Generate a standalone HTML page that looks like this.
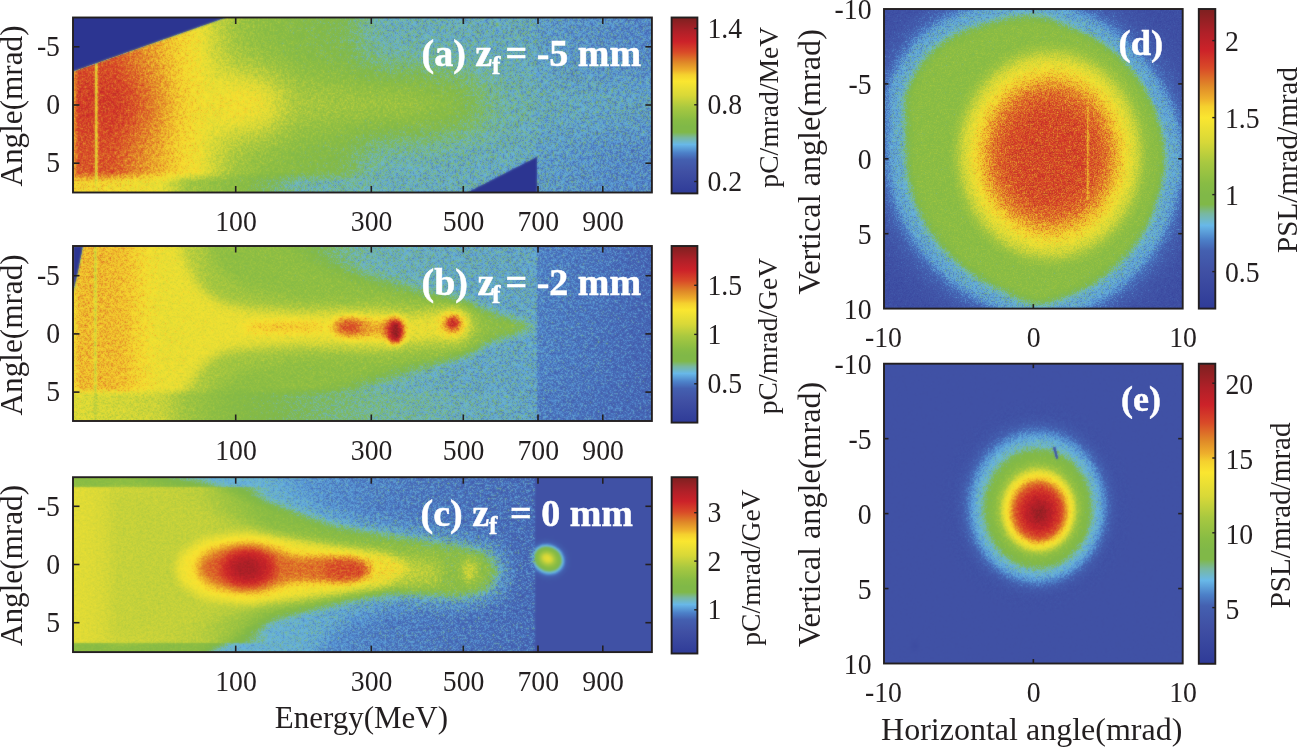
<!DOCTYPE html>
<html lang="en"><head><meta charset="utf-8"><title>Figure</title>
<style>
html,body{margin:0;padding:0;background:#fff;}
body{width:1300px;height:748px;overflow:hidden;}
svg{display:block;font-family:'Liberation Serif', serif;}
</style></head>
<body>
<svg width="1300" height="748" viewBox="0 0 1300 748">
<defs>
<filter id="fa" filterUnits="userSpaceOnUse" x="65" y="9.5" width="594.9" height="191.0" color-interpolation-filters="sRGB">
<feTurbulence type="fractalNoise" baseFrequency="0.6" numOctaves="2" seed="3" result="t"/>
<feColorMatrix in="t" type="matrix" values="0 0 0 0 1  1 0 0 0 0  0 0 0 0 1  0 0 0 0 1" result="n"/>
<feColorMatrix in="SourceGraphic" type="matrix" values="1 0 0 0 0  0 1 0 0 0  0 1 0 0 0  0 0 0 0 1" result="s"/>
<feComposite in="s" in2="n" operator="arithmetic" k1="1" k2="0" k3="0" k4="0" result="p"/>
<feColorMatrix in="p" type="matrix" values="1 0.5 -0.25 0 0  1 0.5 -0.25 0 0  1 0.5 -0.25 0 0  0 0 0 0 1" result="v"/>
<feComponentTransfer in="v" result="c"><feFuncR type="table" tableValues="0.173 0.173 0.173 0.173 0.173 0.173 0.173 0.173 0.173 0.193 0.201 0.210 0.218 0.227 0.235 0.244 0.251 0.255 0.258 0.262 0.265 0.275 0.289 0.308 0.344 0.380 0.413 0.438 0.463 0.482 0.498 0.502 0.502 0.511 0.524 0.542 0.570 0.598 0.626 0.654 0.694 0.736 0.778 0.820 0.856 0.882 0.908 0.934 0.960 0.979 0.970 0.962 0.947 0.929 0.909 0.889 0.875 0.868 0.861 0.854 0.843 0.830 0.816 0.803 0.777 0.747 0.717 0.686 0.646 0.607 0.568 0.529 0.490 0.490 0.490 0.490 0.490 0.490 0.490 0.490 0.490"/><feFuncG type="table" tableValues="0.204 0.204 0.204 0.204 0.204 0.204 0.204 0.204 0.204 0.241 0.252 0.262 0.273 0.283 0.294 0.305 0.316 0.330 0.344 0.358 0.372 0.411 0.464 0.522 0.593 0.665 0.722 0.722 0.722 0.722 0.722 0.722 0.722 0.726 0.733 0.741 0.751 0.762 0.772 0.783 0.796 0.810 0.824 0.838 0.851 0.862 0.872 0.883 0.894 0.894 0.858 0.823 0.753 0.679 0.625 0.571 0.512 0.447 0.381 0.316 0.265 0.225 0.184 0.143 0.132 0.130 0.127 0.125 0.125 0.125 0.125 0.125 0.125 0.125 0.125 0.125 0.125 0.125 0.125 0.125 0.125"/><feFuncB type="table" tableValues="0.565 0.565 0.565 0.565 0.565 0.565 0.565 0.565 0.565 0.600 0.606 0.612 0.619 0.625 0.631 0.638 0.644 0.655 0.665 0.676 0.686 0.716 0.756 0.796 0.837 0.877 0.886 0.773 0.660 0.504 0.330 0.282 0.282 0.278 0.271 0.266 0.262 0.259 0.255 0.252 0.245 0.238 0.231 0.224 0.217 0.211 0.205 0.199 0.193 0.187 0.184 0.181 0.176 0.171 0.166 0.160 0.157 0.157 0.157 0.157 0.157 0.159 0.160 0.161 0.160 0.159 0.158 0.156 0.150 0.144 0.138 0.132 0.125 0.125 0.125 0.125 0.125 0.125 0.125 0.125 0.125"/></feComponentTransfer>
<feGaussianBlur in="c" stdDeviation="1.0" result="cb"/>
<feComposite in="c" in2="cb" operator="arithmetic" k1="0" k2="0.3" k3="0.7" k4="0"/>
</filter>
<linearGradient id="la" gradientUnits="userSpaceOnUse" x1="73" y1="0" x2="651.9" y2="0"><stop offset="0.0000" stop-color="rgb(168,0,0)" stop-opacity="1"/><stop offset="0.0086" stop-color="rgb(188,0,0)" stop-opacity="1"/><stop offset="0.0674" stop-color="rgb(188,0,0)" stop-opacity="1"/><stop offset="0.1123" stop-color="rgb(177,0,0)" stop-opacity="1"/><stop offset="0.1537" stop-color="rgb(168,0,0)" stop-opacity="1"/><stop offset="0.1917" stop-color="rgb(158,0,0)" stop-opacity="1"/><stop offset="0.2159" stop-color="rgb(152,0,0)" stop-opacity="1"/><stop offset="0.2436" stop-color="rgb(136,0,0)" stop-opacity="1"/><stop offset="0.2798" stop-color="rgb(121,0,0)" stop-opacity="1"/><stop offset="0.3230" stop-color="rgb(113,0,0)" stop-opacity="1"/><stop offset="0.4647" stop-color="rgb(101,0,0)" stop-opacity="1"/><stop offset="0.5044" stop-color="rgb(91,0,0)" stop-opacity="1"/><stop offset="0.5476" stop-color="rgb(85,0,0)" stop-opacity="1"/><stop offset="0.7894" stop-color="rgb(83,0,0)" stop-opacity="1"/><stop offset="0.8015" stop-color="rgb(82,0,0)" stop-opacity="1"/><stop offset="0.8015" stop-color="rgb(80,0,0)" stop-opacity="1"/><stop offset="0.8672" stop-color="rgb(77,0,0)" stop-opacity="1"/><stop offset="1.0002" stop-color="rgb(73,0,0)" stop-opacity="1"/></linearGradient>
<linearGradient id="la1" gradientUnits="userSpaceOnUse" x1="73" y1="0" x2="651.9" y2="0"><stop offset="0.0000" stop-color="rgb(168,0,0)" stop-opacity="1"/><stop offset="0.0086" stop-color="rgb(194,0,0)" stop-opacity="1"/><stop offset="0.0777" stop-color="rgb(194,0,0)" stop-opacity="1"/><stop offset="0.1054" stop-color="rgb(188,0,0)" stop-opacity="1"/><stop offset="0.1330" stop-color="rgb(180,0,0)" stop-opacity="1"/><stop offset="0.1606" stop-color="rgb(171,0,0)" stop-opacity="1"/><stop offset="0.1866" stop-color="rgb(162,0,0)" stop-opacity="1"/><stop offset="0.2107" stop-color="rgb(156,0,0)" stop-opacity="1"/><stop offset="0.2401" stop-color="rgb(151,0,0)" stop-opacity="1"/><stop offset="0.2798" stop-color="rgb(155,0,0)" stop-opacity="1"/><stop offset="0.3196" stop-color="rgb(151,0,0)" stop-opacity="1"/><stop offset="0.3438" stop-color="rgb(142,0,0)" stop-opacity="1"/><stop offset="0.3662" stop-color="rgb(132,0,0)" stop-opacity="1"/><stop offset="0.3921" stop-color="rgb(124,0,0)" stop-opacity="1"/><stop offset="0.4612" stop-color="rgb(120,0,0)" stop-opacity="1"/><stop offset="0.5821" stop-color="rgb(117,0,0)" stop-opacity="1"/><stop offset="0.6426" stop-color="rgb(110,0,0)" stop-opacity="1"/><stop offset="0.6789" stop-color="rgb(103,0,0)" stop-opacity="1"/><stop offset="0.7134" stop-color="rgb(94,0,0)" stop-opacity="1"/><stop offset="0.7480" stop-color="rgb(88,0,0)" stop-opacity="1"/><stop offset="0.8015" stop-color="rgb(85,0,0)" stop-opacity="1"/><stop offset="0.8015" stop-color="rgb(84,0,0)" stop-opacity="1"/><stop offset="1.0002" stop-color="rgb(80,0,0)" stop-opacity="1"/></linearGradient>
<linearGradient id="ma1g" gradientUnits="userSpaceOnUse" x1="0" y1="14" x2="0" y2="194"><stop offset="0.0000" stop-color="#fff" stop-opacity="0.002"/><stop offset="0.1111" stop-color="#fff" stop-opacity="0.02"/><stop offset="0.1667" stop-color="#fff" stop-opacity="0.056"/><stop offset="0.2222" stop-color="#fff" stop-opacity="0.135"/><stop offset="0.2778" stop-color="#fff" stop-opacity="0.278"/><stop offset="0.3333" stop-color="#fff" stop-opacity="0.487"/><stop offset="0.3889" stop-color="#fff" stop-opacity="0.726"/><stop offset="0.4444" stop-color="#fff" stop-opacity="0.923"/><stop offset="0.5000" stop-color="#fff" stop-opacity="1.0"/><stop offset="0.5556" stop-color="#fff" stop-opacity="0.923"/><stop offset="0.6111" stop-color="#fff" stop-opacity="0.726"/><stop offset="0.6667" stop-color="#fff" stop-opacity="0.487"/><stop offset="0.7222" stop-color="#fff" stop-opacity="0.278"/><stop offset="0.7778" stop-color="#fff" stop-opacity="0.135"/><stop offset="0.8333" stop-color="#fff" stop-opacity="0.056"/><stop offset="0.8889" stop-color="#fff" stop-opacity="0.02"/><stop offset="1.0000" stop-color="#fff" stop-opacity="0.002"/></linearGradient>
<mask id="ma1" maskUnits="userSpaceOnUse" x="65" y="6" width="594.9" height="196"><rect x="65" y="6" width="594.9" height="196" fill="url(#ma1g)" /></mask>
<linearGradient id="la4" gradientUnits="userSpaceOnUse" x1="73" y1="0" x2="651.9" y2="0"><stop offset="0.0000" stop-color="rgb(160,0,0)" stop-opacity="1"/><stop offset="0.0466" stop-color="rgb(158,0,0)" stop-opacity="1"/><stop offset="0.1503" stop-color="rgb(148,0,0)" stop-opacity="1"/><stop offset="0.1987" stop-color="rgb(121,0,0)" stop-opacity="1"/><stop offset="0.2885" stop-color="rgb(109,0,0)" stop-opacity="1"/><stop offset="0.3472" stop-color="rgb(97,0,0)" stop-opacity="1"/><stop offset="0.3921" stop-color="rgb(87,0,0)" stop-opacity="1"/><stop offset="0.4612" stop-color="rgb(84,0,0)" stop-opacity="0.8"/><stop offset="0.5649" stop-color="rgb(83,0,0)" stop-opacity="0"/><stop offset="1.0002" stop-color="rgb(83,0,0)" stop-opacity="0"/></linearGradient>
<linearGradient id="la5" gradientUnits="userSpaceOnUse" x1="0" y1="172" x2="0" y2="182"><stop offset="0.0000" stop-color="#fff" stop-opacity="0"/><stop offset="1.0000" stop-color="#fff" stop-opacity="1"/></linearGradient>
<mask id="ma5" maskUnits="userSpaceOnUse" x="65" y="150" width="594.9" height="60"><rect x="65" y="150" width="594.9" height="60" fill="url(#la5)"/></mask>
<linearGradient id="na" gradientUnits="userSpaceOnUse" x1="73" y1="0" x2="651.9" y2="0"><stop offset="0.0000" stop-color="rgb(0,153,0)" stop-opacity="1"/><stop offset="0.2500" stop-color="rgb(0,128,0)" stop-opacity="1"/><stop offset="0.6000" stop-color="rgb(0,140,0)" stop-opacity="1"/><stop offset="0.7500" stop-color="rgb(0,158,0)" stop-opacity="1"/><stop offset="1.0000" stop-color="rgb(0,158,0)" stop-opacity="1"/></linearGradient>
<clipPath id="cfa"><rect x="73" y="17.5" width="578.9" height="175.0"/></clipPath>
<filter id="fb" filterUnits="userSpaceOnUse" x="65" y="238.0" width="594.9" height="191.0" color-interpolation-filters="sRGB">
<feTurbulence type="fractalNoise" baseFrequency="0.6" numOctaves="2" seed="7" result="t"/>
<feColorMatrix in="t" type="matrix" values="0 0 0 0 1  1 0 0 0 0  0 0 0 0 1  0 0 0 0 1" result="n"/>
<feColorMatrix in="SourceGraphic" type="matrix" values="1 0 0 0 0  0 1 0 0 0  0 1 0 0 0  0 0 0 0 1" result="s"/>
<feComposite in="s" in2="n" operator="arithmetic" k1="1" k2="0" k3="0" k4="0" result="p"/>
<feColorMatrix in="p" type="matrix" values="1 0.55 -0.275 0 0  1 0.55 -0.275 0 0  1 0.55 -0.275 0 0  0 0 0 0 1" result="v"/>
<feComponentTransfer in="v" result="c"><feFuncR type="table" tableValues="0.173 0.173 0.173 0.173 0.173 0.173 0.173 0.173 0.173 0.193 0.201 0.210 0.218 0.227 0.235 0.244 0.251 0.255 0.258 0.262 0.265 0.275 0.289 0.308 0.344 0.380 0.413 0.438 0.463 0.482 0.498 0.502 0.502 0.511 0.524 0.542 0.570 0.598 0.626 0.654 0.694 0.736 0.778 0.820 0.856 0.882 0.908 0.934 0.960 0.979 0.970 0.962 0.947 0.929 0.909 0.889 0.875 0.868 0.861 0.854 0.843 0.830 0.816 0.803 0.777 0.747 0.717 0.686 0.646 0.607 0.568 0.529 0.490 0.490 0.490 0.490 0.490 0.490 0.490 0.490 0.490"/><feFuncG type="table" tableValues="0.204 0.204 0.204 0.204 0.204 0.204 0.204 0.204 0.204 0.241 0.252 0.262 0.273 0.283 0.294 0.305 0.316 0.330 0.344 0.358 0.372 0.411 0.464 0.522 0.593 0.665 0.722 0.722 0.722 0.722 0.722 0.722 0.722 0.726 0.733 0.741 0.751 0.762 0.772 0.783 0.796 0.810 0.824 0.838 0.851 0.862 0.872 0.883 0.894 0.894 0.858 0.823 0.753 0.679 0.625 0.571 0.512 0.447 0.381 0.316 0.265 0.225 0.184 0.143 0.132 0.130 0.127 0.125 0.125 0.125 0.125 0.125 0.125 0.125 0.125 0.125 0.125 0.125 0.125 0.125 0.125"/><feFuncB type="table" tableValues="0.565 0.565 0.565 0.565 0.565 0.565 0.565 0.565 0.565 0.600 0.606 0.612 0.619 0.625 0.631 0.638 0.644 0.655 0.665 0.676 0.686 0.716 0.756 0.796 0.837 0.877 0.886 0.773 0.660 0.504 0.330 0.282 0.282 0.278 0.271 0.266 0.262 0.259 0.255 0.252 0.245 0.238 0.231 0.224 0.217 0.211 0.205 0.199 0.193 0.187 0.184 0.181 0.176 0.171 0.166 0.160 0.157 0.157 0.157 0.157 0.157 0.159 0.160 0.161 0.160 0.159 0.158 0.156 0.150 0.144 0.138 0.132 0.125 0.125 0.125 0.125 0.125 0.125 0.125 0.125 0.125"/></feComponentTransfer>
<feGaussianBlur in="c" stdDeviation="1.0" result="cb"/>
<feComposite in="c" in2="cb" operator="arithmetic" k1="0" k2="0.3" k3="0.7" k4="0"/>
</filter>
<linearGradient id="lb" gradientUnits="userSpaceOnUse" x1="73" y1="0" x2="651.9" y2="0"><stop offset="0.0000" stop-color="rgb(152,0,0)" stop-opacity="1"/><stop offset="0.0104" stop-color="rgb(166,0,0)" stop-opacity="1"/><stop offset="0.0466" stop-color="rgb(167,0,0)" stop-opacity="1"/><stop offset="0.0898" stop-color="rgb(165,0,0)" stop-opacity="1"/><stop offset="0.1192" stop-color="rgb(157,0,0)" stop-opacity="1"/><stop offset="0.1503" stop-color="rgb(151,0,0)" stop-opacity="1"/><stop offset="0.1779" stop-color="rgb(147,0,0)" stop-opacity="1"/><stop offset="0.2125" stop-color="rgb(128,0,0)" stop-opacity="1"/><stop offset="0.2367" stop-color="rgb(117,0,0)" stop-opacity="1"/><stop offset="0.3921" stop-color="rgb(107,0,0)" stop-opacity="1"/><stop offset="0.4526" stop-color="rgb(95,0,0)" stop-opacity="1"/><stop offset="0.5044" stop-color="rgb(87,0,0)" stop-opacity="1"/><stop offset="0.6512" stop-color="rgb(83,0,0)" stop-opacity="1"/><stop offset="0.8015" stop-color="rgb(81,0,0)" stop-opacity="1"/><stop offset="0.8015" stop-color="rgb(72,0,0)" stop-opacity="1"/><stop offset="0.9103" stop-color="rgb(68,0,0)" stop-opacity="1"/><stop offset="1.0002" stop-color="rgb(63,0,0)" stop-opacity="1"/></linearGradient>
<filter id="bl7" x="-30%" y="-30%" width="160%" height="160%" color-interpolation-filters="sRGB"><feGaussianBlur stdDeviation="7"/></filter>
<filter id="bl5" x="-30%" y="-30%" width="160%" height="160%" color-interpolation-filters="sRGB"><feGaussianBlur stdDeviation="5"/></filter>
<filter id="bl6" x="-30%" y="-30%" width="160%" height="160%" color-interpolation-filters="sRGB"><feGaussianBlur stdDeviation="6"/></filter>
<linearGradient id="lb2" gradientUnits="userSpaceOnUse" x1="73" y1="0" x2="651.9" y2="0"><stop offset="0.0000" stop-color="rgb(143,0,0)" stop-opacity="1"/><stop offset="0.0466" stop-color="rgb(140,0,0)" stop-opacity="1"/><stop offset="0.1503" stop-color="rgb(135,0,0)" stop-opacity="1"/><stop offset="0.1935" stop-color="rgb(121,0,0)" stop-opacity="1"/><stop offset="0.2712" stop-color="rgb(109,0,0)" stop-opacity="1"/><stop offset="0.3921" stop-color="rgb(97,0,0)" stop-opacity="1"/><stop offset="0.6512" stop-color="rgb(85,0,0)" stop-opacity="1"/><stop offset="0.8015" stop-color="rgb(81,0,0)" stop-opacity="1"/><stop offset="0.8015" stop-color="rgb(71,0,0)" stop-opacity="1"/><stop offset="1.0002" stop-color="rgb(64,0,0)" stop-opacity="1"/></linearGradient>
<linearGradient id="lb3" gradientUnits="userSpaceOnUse" x1="0" y1="388" x2="0" y2="396"><stop offset="0.0000" stop-color="#fff" stop-opacity="0"/><stop offset="1.0000" stop-color="#fff" stop-opacity="1"/></linearGradient>
<mask id="mb3"><rect x="73" y="380" width="578.9" height="50" fill="url(#lb3)"/></mask>
<filter id="bl4_5" x="-30%" y="-30%" width="160%" height="160%" color-interpolation-filters="sRGB"><feGaussianBlur stdDeviation="4.5"/></filter>
<filter id="bl3_5" x="-30%" y="-30%" width="160%" height="160%" color-interpolation-filters="sRGB"><feGaussianBlur stdDeviation="3.5"/></filter>
<filter id="bl2_5" x="-30%" y="-30%" width="160%" height="160%" color-interpolation-filters="sRGB"><feGaussianBlur stdDeviation="2.5"/></filter>
<filter id="bl4" x="-30%" y="-30%" width="160%" height="160%" color-interpolation-filters="sRGB"><feGaussianBlur stdDeviation="4"/></filter>
<filter id="bl3" x="-30%" y="-30%" width="160%" height="160%" color-interpolation-filters="sRGB"><feGaussianBlur stdDeviation="3"/></filter>
<filter id="bl2" x="-30%" y="-30%" width="160%" height="160%" color-interpolation-filters="sRGB"><feGaussianBlur stdDeviation="2"/></filter>
<linearGradient id="nb" gradientUnits="userSpaceOnUse" x1="73" y1="0" x2="651.9" y2="0"><stop offset="0.0000" stop-color="rgb(0,153,0)" stop-opacity="1"/><stop offset="0.1200" stop-color="rgb(0,128,0)" stop-opacity="1"/><stop offset="0.2500" stop-color="rgb(0,89,0)" stop-opacity="1"/><stop offset="0.6000" stop-color="rgb(0,128,0)" stop-opacity="1"/><stop offset="0.8000" stop-color="rgb(0,140,0)" stop-opacity="1"/><stop offset="1.0000" stop-color="rgb(0,153,0)" stop-opacity="1"/></linearGradient>
<clipPath id="cfb"><rect x="73" y="246.0" width="578.9" height="175.0"/></clipPath>
<filter id="fc" filterUnits="userSpaceOnUse" x="65" y="469.2" width="594.9" height="190.90000000000003" color-interpolation-filters="sRGB">
<feTurbulence type="fractalNoise" baseFrequency="0.6" numOctaves="2" seed="11" result="t"/>
<feColorMatrix in="t" type="matrix" values="0 0 0 0 1  1 0 0 0 0  0 0 0 0 1  0 0 0 0 1" result="n"/>
<feColorMatrix in="SourceGraphic" type="matrix" values="1 0 0 0 0  0 1 0 0 0  0 1 0 0 0  0 0 0 0 1" result="s"/>
<feComposite in="s" in2="n" operator="arithmetic" k1="1" k2="0" k3="0" k4="0" result="p"/>
<feColorMatrix in="p" type="matrix" values="1 0.45 -0.225 0 0  1 0.45 -0.225 0 0  1 0.45 -0.225 0 0  0 0 0 0 1" result="v"/>
<feComponentTransfer in="v" result="c"><feFuncR type="table" tableValues="0.173 0.173 0.173 0.173 0.173 0.173 0.173 0.173 0.173 0.193 0.201 0.210 0.218 0.227 0.235 0.244 0.251 0.255 0.258 0.262 0.265 0.275 0.289 0.308 0.344 0.380 0.413 0.438 0.463 0.482 0.498 0.502 0.502 0.511 0.524 0.542 0.570 0.598 0.626 0.654 0.694 0.736 0.778 0.820 0.856 0.882 0.908 0.934 0.960 0.979 0.970 0.962 0.947 0.929 0.909 0.889 0.875 0.868 0.861 0.854 0.843 0.830 0.816 0.803 0.777 0.747 0.717 0.686 0.646 0.607 0.568 0.529 0.490 0.490 0.490 0.490 0.490 0.490 0.490 0.490 0.490"/><feFuncG type="table" tableValues="0.204 0.204 0.204 0.204 0.204 0.204 0.204 0.204 0.204 0.241 0.252 0.262 0.273 0.283 0.294 0.305 0.316 0.330 0.344 0.358 0.372 0.411 0.464 0.522 0.593 0.665 0.722 0.722 0.722 0.722 0.722 0.722 0.722 0.726 0.733 0.741 0.751 0.762 0.772 0.783 0.796 0.810 0.824 0.838 0.851 0.862 0.872 0.883 0.894 0.894 0.858 0.823 0.753 0.679 0.625 0.571 0.512 0.447 0.381 0.316 0.265 0.225 0.184 0.143 0.132 0.130 0.127 0.125 0.125 0.125 0.125 0.125 0.125 0.125 0.125 0.125 0.125 0.125 0.125 0.125 0.125"/><feFuncB type="table" tableValues="0.565 0.565 0.565 0.565 0.565 0.565 0.565 0.565 0.565 0.600 0.606 0.612 0.619 0.625 0.631 0.638 0.644 0.655 0.665 0.676 0.686 0.716 0.756 0.796 0.837 0.877 0.886 0.773 0.660 0.504 0.330 0.282 0.282 0.278 0.271 0.266 0.262 0.259 0.255 0.252 0.245 0.238 0.231 0.224 0.217 0.211 0.205 0.199 0.193 0.187 0.184 0.181 0.176 0.171 0.166 0.160 0.157 0.157 0.157 0.157 0.157 0.159 0.160 0.161 0.160 0.159 0.158 0.156 0.150 0.144 0.138 0.132 0.125 0.125 0.125 0.125 0.125 0.125 0.125 0.125 0.125"/></feComponentTransfer>
<feGaussianBlur in="c" stdDeviation="1.0" result="cb"/>
<feComposite in="c" in2="cb" operator="arithmetic" k1="0" k2="0.3" k3="0.7" k4="0"/>
</filter>
<linearGradient id="lc" gradientUnits="userSpaceOnUse" x1="73" y1="0" x2="651.9" y2="0"><stop offset="0.0000" stop-color="rgb(87,0,0)" stop-opacity="1"/><stop offset="0.3058" stop-color="rgb(83,0,0)" stop-opacity="1"/><stop offset="0.4439" stop-color="rgb(75,0,0)" stop-opacity="1"/><stop offset="0.5649" stop-color="rgb(71,0,0)" stop-opacity="1"/><stop offset="0.6858" stop-color="rgb(68,0,0)" stop-opacity="1"/><stop offset="0.7981" stop-color="rgb(65,0,0)" stop-opacity="1"/></linearGradient>
<filter id="bl8" x="-30%" y="-30%" width="160%" height="160%" color-interpolation-filters="sRGB"><feGaussianBlur stdDeviation="8"/></filter>
<linearGradient id="lc2" gradientUnits="userSpaceOnUse" x1="73" y1="0" x2="651.9" y2="0"><stop offset="0.0000" stop-color="rgb(144,0,0)" stop-opacity="1"/><stop offset="0.0466" stop-color="rgb(141,0,0)" stop-opacity="1"/><stop offset="0.1157" stop-color="rgb(137,0,0)" stop-opacity="1"/><stop offset="0.2194" stop-color="rgb(133,0,0)" stop-opacity="0.9"/><stop offset="0.3403" stop-color="rgb(128,0,0)" stop-opacity="0"/><stop offset="1.0002" stop-color="rgb(107,0,0)" stop-opacity="0"/></linearGradient>
<linearGradient id="nc" gradientUnits="userSpaceOnUse" x1="73" y1="0" x2="651.9" y2="0"><stop offset="0.0000" stop-color="rgb(0,64,0)" stop-opacity="1"/><stop offset="0.3000" stop-color="rgb(0,76,0)" stop-opacity="1"/><stop offset="0.6000" stop-color="rgb(0,178,0)" stop-opacity="1"/><stop offset="0.7980" stop-color="rgb(0,204,0)" stop-opacity="1"/><stop offset="0.7990" stop-color="rgb(0,0,0)" stop-opacity="1"/><stop offset="1.0000" stop-color="rgb(0,0,0)" stop-opacity="1"/></linearGradient>
<clipPath id="cfc"><rect x="73" y="477.2" width="578.9" height="174.90000000000003"/></clipPath>
<filter id="fd" filterUnits="userSpaceOnUse" x="876" y="1" width="314.70000000000005" height="315.6" color-interpolation-filters="sRGB">
<feTurbulence type="fractalNoise" baseFrequency="0.75" numOctaves="2" seed="5" result="t"/>
<feColorMatrix in="t" type="matrix" values="0 0 0 0 1  1 0 0 0 0  0 0 0 0 1  0 0 0 0 1" result="n"/>
<feColorMatrix in="SourceGraphic" type="matrix" values="1 0 0 0 0  0 1 0 0 0  0 1 0 0 0  0 0 0 0 1" result="s"/>
<feComposite in="s" in2="n" operator="arithmetic" k1="1" k2="0" k3="0" k4="0" result="p"/>
<feColorMatrix in="p" type="matrix" values="1 0.36 -0.18 0 0  1 0.36 -0.18 0 0  1 0.36 -0.18 0 0  0 0 0 0 1" result="v"/>
<feComponentTransfer in="v" result="c"><feFuncR type="table" tableValues="0.173 0.173 0.173 0.173 0.173 0.173 0.173 0.173 0.173 0.193 0.201 0.210 0.218 0.227 0.235 0.244 0.251 0.255 0.258 0.262 0.265 0.275 0.289 0.308 0.344 0.380 0.413 0.438 0.463 0.482 0.498 0.502 0.502 0.511 0.524 0.542 0.570 0.598 0.626 0.654 0.694 0.736 0.778 0.820 0.856 0.882 0.908 0.934 0.960 0.979 0.970 0.962 0.947 0.929 0.909 0.889 0.875 0.868 0.861 0.854 0.843 0.830 0.816 0.803 0.777 0.747 0.717 0.686 0.646 0.607 0.568 0.529 0.490 0.490 0.490 0.490 0.490 0.490 0.490 0.490 0.490"/><feFuncG type="table" tableValues="0.204 0.204 0.204 0.204 0.204 0.204 0.204 0.204 0.204 0.241 0.252 0.262 0.273 0.283 0.294 0.305 0.316 0.330 0.344 0.358 0.372 0.411 0.464 0.522 0.593 0.665 0.722 0.722 0.722 0.722 0.722 0.722 0.722 0.726 0.733 0.741 0.751 0.762 0.772 0.783 0.796 0.810 0.824 0.838 0.851 0.862 0.872 0.883 0.894 0.894 0.858 0.823 0.753 0.679 0.625 0.571 0.512 0.447 0.381 0.316 0.265 0.225 0.184 0.143 0.132 0.130 0.127 0.125 0.125 0.125 0.125 0.125 0.125 0.125 0.125 0.125 0.125 0.125 0.125 0.125 0.125"/><feFuncB type="table" tableValues="0.565 0.565 0.565 0.565 0.565 0.565 0.565 0.565 0.565 0.600 0.606 0.612 0.619 0.625 0.631 0.638 0.644 0.655 0.665 0.676 0.686 0.716 0.756 0.796 0.837 0.877 0.886 0.773 0.660 0.504 0.330 0.282 0.282 0.278 0.271 0.266 0.262 0.259 0.255 0.252 0.245 0.238 0.231 0.224 0.217 0.211 0.205 0.199 0.193 0.187 0.184 0.181 0.176 0.171 0.166 0.160 0.157 0.157 0.157 0.157 0.157 0.159 0.160 0.161 0.160 0.159 0.158 0.156 0.150 0.144 0.138 0.132 0.125 0.125 0.125 0.125 0.125 0.125 0.125 0.125 0.125"/></feComponentTransfer>
<feGaussianBlur in="c" stdDeviation="0.9" result="cb"/>
<feComposite in="c" in2="cb" operator="arithmetic" k1="0" k2="0.4" k3="0.6" k4="0"/>
</filter>
<filter id="bl10" x="-30%" y="-30%" width="160%" height="160%" color-interpolation-filters="sRGB"><feGaussianBlur stdDeviation="10"/></filter>
<radialGradient id="rd2" gradientUnits="userSpaceOnUse" cx="0" cy="0" r="1" gradientTransform="translate(1050,155) scale(120.0,135.6)"><stop offset="0.0000" stop-color="rgb(192,0,0)" stop-opacity="1"/><stop offset="0.2917" stop-color="rgb(191,0,0)" stop-opacity="1"/><stop offset="0.3750" stop-color="rgb(188,0,0)" stop-opacity="1"/><stop offset="0.4333" stop-color="rgb(184,0,0)" stop-opacity="1"/><stop offset="0.4833" stop-color="rgb(179,0,0)" stop-opacity="1"/><stop offset="0.5333" stop-color="rgb(171,0,0)" stop-opacity="1"/><stop offset="0.5750" stop-color="rgb(164,0,0)" stop-opacity="1"/><stop offset="0.6250" stop-color="rgb(155,0,0)" stop-opacity="1"/><stop offset="0.6667" stop-color="rgb(147,0,0)" stop-opacity="1"/><stop offset="0.7083" stop-color="rgb(139,0,0)" stop-opacity="1"/><stop offset="0.7417" stop-color="rgb(132,0,0)" stop-opacity="1"/><stop offset="0.7917" stop-color="rgb(119,0,0)" stop-opacity="1"/><stop offset="0.8500" stop-color="rgb(111,0,0)" stop-opacity="1"/><stop offset="0.9583" stop-color="rgb(111,0,0)" stop-opacity="0"/></radialGradient>
<radialGradient id="nd" gradientUnits="userSpaceOnUse" cx="0" cy="0" r="1" gradientTransform="translate(1050,156) scale(110,124)"><stop offset="0.0000" stop-color="rgb(0,255,0)" stop-opacity="1"/><stop offset="0.6000" stop-color="rgb(0,255,0)" stop-opacity="1"/><stop offset="0.8500" stop-color="rgb(0,153,0)" stop-opacity="1"/><stop offset="1.0000" stop-color="rgb(0,153,0)" stop-opacity="1"/></radialGradient>
<clipPath id="cfd"><rect x="884" y="9" width="298.70000000000005" height="299.6"/></clipPath>
<filter id="fe" filterUnits="userSpaceOnUse" x="876" y="355.7" width="314.70000000000005" height="315.8" color-interpolation-filters="sRGB">
<feTurbulence type="fractalNoise" baseFrequency="0.6" numOctaves="2" seed="9" result="t"/>
<feColorMatrix in="t" type="matrix" values="0 0 0 0 1  1 0 0 0 0  0 0 0 0 1  0 0 0 0 1" result="n"/>
<feColorMatrix in="SourceGraphic" type="matrix" values="1 0 0 0 0  0 1 0 0 0  0 1 0 0 0  0 0 0 0 1" result="s"/>
<feComposite in="s" in2="n" operator="arithmetic" k1="1" k2="0" k3="0" k4="0" result="p"/>
<feColorMatrix in="p" type="matrix" values="1 0.2 -0.1 0 0  1 0.2 -0.1 0 0  1 0.2 -0.1 0 0  0 0 0 0 1" result="v"/>
<feComponentTransfer in="v" result="c"><feFuncR type="table" tableValues="0.173 0.173 0.173 0.173 0.173 0.173 0.173 0.173 0.173 0.193 0.201 0.210 0.218 0.227 0.235 0.244 0.251 0.255 0.258 0.262 0.265 0.275 0.289 0.308 0.344 0.380 0.413 0.438 0.463 0.482 0.498 0.502 0.502 0.511 0.524 0.542 0.570 0.598 0.626 0.654 0.694 0.736 0.778 0.820 0.856 0.882 0.908 0.934 0.960 0.979 0.970 0.962 0.947 0.929 0.909 0.889 0.875 0.868 0.861 0.854 0.843 0.830 0.816 0.803 0.777 0.747 0.717 0.686 0.646 0.607 0.568 0.529 0.490 0.490 0.490 0.490 0.490 0.490 0.490 0.490 0.490"/><feFuncG type="table" tableValues="0.204 0.204 0.204 0.204 0.204 0.204 0.204 0.204 0.204 0.241 0.252 0.262 0.273 0.283 0.294 0.305 0.316 0.330 0.344 0.358 0.372 0.411 0.464 0.522 0.593 0.665 0.722 0.722 0.722 0.722 0.722 0.722 0.722 0.726 0.733 0.741 0.751 0.762 0.772 0.783 0.796 0.810 0.824 0.838 0.851 0.862 0.872 0.883 0.894 0.894 0.858 0.823 0.753 0.679 0.625 0.571 0.512 0.447 0.381 0.316 0.265 0.225 0.184 0.143 0.132 0.130 0.127 0.125 0.125 0.125 0.125 0.125 0.125 0.125 0.125 0.125 0.125 0.125 0.125 0.125 0.125"/><feFuncB type="table" tableValues="0.565 0.565 0.565 0.565 0.565 0.565 0.565 0.565 0.565 0.600 0.606 0.612 0.619 0.625 0.631 0.638 0.644 0.655 0.665 0.676 0.686 0.716 0.756 0.796 0.837 0.877 0.886 0.773 0.660 0.504 0.330 0.282 0.282 0.278 0.271 0.266 0.262 0.259 0.255 0.252 0.245 0.238 0.231 0.224 0.217 0.211 0.205 0.199 0.193 0.187 0.184 0.181 0.176 0.171 0.166 0.160 0.157 0.157 0.157 0.157 0.157 0.159 0.160 0.161 0.160 0.159 0.158 0.156 0.150 0.144 0.138 0.132 0.125 0.125 0.125 0.125 0.125 0.125 0.125 0.125 0.125"/></feComponentTransfer>
<feGaussianBlur in="c" stdDeviation="1.0" result="cb"/>
<feComposite in="c" in2="cb" operator="arithmetic" k1="0" k2="0.3" k3="0.7" k4="0"/>
</filter>
<radialGradient id="re" gradientUnits="userSpaceOnUse" cx="0" cy="0" r="1" fx="0.0417" fy="0.0914" gradientTransform="translate(1036.5,505.5) scale(84,93)"><stop offset="0.0000" stop-color="rgb(223,0,0)" stop-opacity="1"/><stop offset="0.0800" stop-color="rgb(215,0,0)" stop-opacity="1"/><stop offset="0.1800" stop-color="rgb(203,0,0)" stop-opacity="1"/><stop offset="0.2700" stop-color="rgb(189,0,0)" stop-opacity="1"/><stop offset="0.3000" stop-color="rgb(182,0,0)" stop-opacity="1"/><stop offset="0.3400" stop-color="rgb(168,0,0)" stop-opacity="1"/><stop offset="0.3800" stop-color="rgb(156,0,0)" stop-opacity="1"/><stop offset="0.4200" stop-color="rgb(142,0,0)" stop-opacity="1"/><stop offset="0.4700" stop-color="rgb(121,0,0)" stop-opacity="1"/><stop offset="0.5200" stop-color="rgb(111,0,0)" stop-opacity="1"/><stop offset="0.6000" stop-color="rgb(101,0,0)" stop-opacity="1"/><stop offset="0.6400" stop-color="rgb(93,0,0)" stop-opacity="1"/><stop offset="0.6800" stop-color="rgb(86,0,0)" stop-opacity="1"/><stop offset="0.7400" stop-color="rgb(81,0,0)" stop-opacity="1"/><stop offset="0.8000" stop-color="rgb(74,0,0)" stop-opacity="1"/><stop offset="0.8600" stop-color="rgb(64,0,0)" stop-opacity="1"/><stop offset="0.9300" stop-color="rgb(56,0,0)" stop-opacity="1"/><stop offset="1.0000" stop-color="rgb(52,0,0)" stop-opacity="1"/></radialGradient>
<radialGradient id="ne" gradientUnits="userSpaceOnUse" cx="0" cy="0" r="1" gradientTransform="translate(1036,506) scale(100,110)"><stop offset="0.0000" stop-color="rgb(0,204,0)" stop-opacity="1"/><stop offset="0.7500" stop-color="rgb(0,204,0)" stop-opacity="1"/><stop offset="1.0000" stop-color="rgb(0,38,0)" stop-opacity="1"/></radialGradient>
<clipPath id="cfe"><rect x="884" y="363.7" width="298.70000000000005" height="299.8"/></clipPath>
<linearGradient id="cb17" x1="0" y1="0" x2="0" y2="1"><stop offset="0.0000" stop-color="#7d2020"/><stop offset="0.0800" stop-color="#b02028"/><stop offset="0.1370" stop-color="#cc2229"/><stop offset="0.1970" stop-color="#d94a28"/><stop offset="0.2570" stop-color="#e08a28"/><stop offset="0.3000" stop-color="#eeb02c"/><stop offset="0.3250" stop-color="#f5d02e"/><stop offset="0.3630" stop-color="#fae630"/><stop offset="0.4430" stop-color="#d8d838"/><stop offset="0.5130" stop-color="#a8c840"/><stop offset="0.5830" stop-color="#88bc44"/><stop offset="0.6200" stop-color="#80b848"/><stop offset="0.6520" stop-color="#80b848"/><stop offset="0.6830" stop-color="#78b8a0"/><stop offset="0.7220" stop-color="#68b8e8"/><stop offset="0.7700" stop-color="#4c80c8"/><stop offset="0.8070" stop-color="#4460b0"/><stop offset="0.8770" stop-color="#4050a4"/><stop offset="0.9930" stop-color="#303c98"/><stop offset="1.0000" stop-color="#2c3490"/></linearGradient>
<linearGradient id="cb246" x1="0" y1="0" x2="0" y2="1"><stop offset="0.0000" stop-color="#7d2020"/><stop offset="0.0800" stop-color="#b02028"/><stop offset="0.1370" stop-color="#cc2229"/><stop offset="0.1970" stop-color="#d94a28"/><stop offset="0.2570" stop-color="#e08a28"/><stop offset="0.3000" stop-color="#eeb02c"/><stop offset="0.3250" stop-color="#f5d02e"/><stop offset="0.3630" stop-color="#fae630"/><stop offset="0.4430" stop-color="#d8d838"/><stop offset="0.5130" stop-color="#a8c840"/><stop offset="0.5830" stop-color="#88bc44"/><stop offset="0.6200" stop-color="#80b848"/><stop offset="0.6520" stop-color="#80b848"/><stop offset="0.6830" stop-color="#78b8a0"/><stop offset="0.7220" stop-color="#68b8e8"/><stop offset="0.7700" stop-color="#4c80c8"/><stop offset="0.8070" stop-color="#4460b0"/><stop offset="0.8770" stop-color="#4050a4"/><stop offset="0.9930" stop-color="#303c98"/><stop offset="1.0000" stop-color="#2c3490"/></linearGradient>
<linearGradient id="cb477" x1="0" y1="0" x2="0" y2="1"><stop offset="0.0000" stop-color="#7d2020"/><stop offset="0.0800" stop-color="#b02028"/><stop offset="0.1370" stop-color="#cc2229"/><stop offset="0.1970" stop-color="#d94a28"/><stop offset="0.2570" stop-color="#e08a28"/><stop offset="0.3000" stop-color="#eeb02c"/><stop offset="0.3250" stop-color="#f5d02e"/><stop offset="0.3630" stop-color="#fae630"/><stop offset="0.4430" stop-color="#d8d838"/><stop offset="0.5130" stop-color="#a8c840"/><stop offset="0.5830" stop-color="#88bc44"/><stop offset="0.6200" stop-color="#80b848"/><stop offset="0.6520" stop-color="#80b848"/><stop offset="0.6830" stop-color="#78b8a0"/><stop offset="0.7220" stop-color="#68b8e8"/><stop offset="0.7700" stop-color="#4c80c8"/><stop offset="0.8070" stop-color="#4460b0"/><stop offset="0.8770" stop-color="#4050a4"/><stop offset="0.9930" stop-color="#303c98"/><stop offset="1.0000" stop-color="#2c3490"/></linearGradient>
<linearGradient id="cb9" x1="0" y1="0" x2="0" y2="1"><stop offset="0.0000" stop-color="#7d2020"/><stop offset="0.0800" stop-color="#b02028"/><stop offset="0.1370" stop-color="#cc2229"/><stop offset="0.1970" stop-color="#d94a28"/><stop offset="0.2570" stop-color="#e08a28"/><stop offset="0.3000" stop-color="#eeb02c"/><stop offset="0.3250" stop-color="#f5d02e"/><stop offset="0.3630" stop-color="#fae630"/><stop offset="0.4430" stop-color="#d8d838"/><stop offset="0.5130" stop-color="#a8c840"/><stop offset="0.5830" stop-color="#88bc44"/><stop offset="0.6200" stop-color="#80b848"/><stop offset="0.6520" stop-color="#80b848"/><stop offset="0.6830" stop-color="#78b8a0"/><stop offset="0.7220" stop-color="#68b8e8"/><stop offset="0.7700" stop-color="#4c80c8"/><stop offset="0.8070" stop-color="#4460b0"/><stop offset="0.8770" stop-color="#4050a4"/><stop offset="0.9930" stop-color="#303c98"/><stop offset="1.0000" stop-color="#2c3490"/></linearGradient>
<linearGradient id="cb363" x1="0" y1="0" x2="0" y2="1"><stop offset="0.0000" stop-color="#7d2020"/><stop offset="0.0800" stop-color="#b02028"/><stop offset="0.1370" stop-color="#cc2229"/><stop offset="0.1970" stop-color="#d94a28"/><stop offset="0.2570" stop-color="#e08a28"/><stop offset="0.3000" stop-color="#eeb02c"/><stop offset="0.3250" stop-color="#f5d02e"/><stop offset="0.3630" stop-color="#fae630"/><stop offset="0.4430" stop-color="#d8d838"/><stop offset="0.5130" stop-color="#a8c840"/><stop offset="0.5830" stop-color="#88bc44"/><stop offset="0.6200" stop-color="#80b848"/><stop offset="0.6520" stop-color="#80b848"/><stop offset="0.6830" stop-color="#78b8a0"/><stop offset="0.7220" stop-color="#68b8e8"/><stop offset="0.7700" stop-color="#4c80c8"/><stop offset="0.8070" stop-color="#4460b0"/><stop offset="0.8770" stop-color="#4050a4"/><stop offset="0.9930" stop-color="#303c98"/><stop offset="1.0000" stop-color="#2c3490"/></linearGradient>
</defs>
<rect width="1300" height="748" fill="#fff"/>
<g clip-path="url(#cfa)"><g filter="url(#fa)">
<rect x="65" y="9.5" width="594.9" height="191.0" fill="url(#la)" />
<rect x="65" y="9.5" width="594.9" height="191.0" fill="url(#la1)" mask="url(#ma1)"/>
<g mask="url(#ma5)"><rect x="65" y="150" width="594.9" height="60" fill="url(#la4)"/></g>
<rect x="95.0" y="17.5" width="2.4" height="183.0" fill="rgb(142,0,0)" fill-opacity=".9"/>
<polygon points="65,9.5 226,9.5 226,17.5 73,71.5 65,71.5" fill="rgb(26,0,0)"/><polygon points="467.5,192.5 537,157 537,200.5 467.5,200.5" fill="rgb(26,0,0)"/>
<g style="mix-blend-mode:screen"><rect x="65" y="9.5" width="594.9" height="191.0" fill="url(#na)" /><polygon points="65,9.5 226,9.5 226,17.5 73,71.5 65,71.5" fill="#000"/><polygon points="467.5,192.5 537,157 537,200.5 467.5,200.5" fill="#000"/></g>
</g></g>
<g clip-path="url(#cfb)"><g filter="url(#fb)">
<rect x="65" y="238.0" width="594.9" height="191.0" fill="url(#lb)" />
<polygon points="222.0,216.0 260.0,216.0 300.0,256.0 360.0,276.0 440.0,298.0 476.0,312.0 486.0,327.0 476.0,344.0 440.0,360.0 360.0,384.0 300.0,400.0 260.0,451.0 222.0,451.0" fill="rgb(113,0,0)" fill-opacity="1" filter="url(#bl7)"/>
<polygon points="430.0,299.0 470.0,306.0 491.0,313.0 512.0,320.0 536.0,327.0 512.0,334.0 491.0,341.0 470.0,350.0 430.0,359.0" fill="rgb(111,0,0)" fill-opacity="1" filter="url(#bl5)"/>
<polygon points="178.0,216.0 198.0,216.0 212.0,264.0 245.0,288.0 300.0,300.0 420.0,302.0 465.0,303.0 486.0,327.0 465.0,352.0 420.0,356.0 300.0,358.0 245.0,370.0 212.0,390.0 198.0,451.0 178.0,451.0" fill="rgb(128,0,0)" fill-opacity="0.6" filter="url(#bl7)"/>
<polygon points="160.0,216.0 170.0,216.0 178.0,254.0 200.0,289.0 222.0,303.0 250.0,309.0 300.0,312.0 380.0,311.0 410.0,316.0 436.0,312.0 462.0,311.0 472.0,324.0 462.0,340.0 436.0,341.0 410.0,342.0 385.0,348.0 300.0,345.0 250.0,348.0 222.0,352.0 200.0,367.0 178.0,396.0 170.0,451.0 160.0,451.0" fill="rgb(148,0,0)" fill-opacity="1" filter="url(#bl6)"/>
<rect x="73" y="380" width="578.9" height="50" fill="url(#lb2)" mask="url(#mb3)"/>
<ellipse cx="285" cy="327" rx="45" ry="6" fill="rgb(166,0,0)" fill-opacity="1" filter="url(#bl4_5)"/>
<ellipse cx="372" cy="328.5" rx="30" ry="9" fill="rgb(172,0,0)" fill-opacity="1" filter="url(#bl4_5)"/>
<ellipse cx="349" cy="327" rx="18" ry="10" fill="rgb(181,0,0)" fill-opacity="1" filter="url(#bl4_5)"/>
<ellipse cx="349" cy="327" rx="9" ry="5" fill="rgb(191,0,0)" fill-opacity="1" filter="url(#bl3_5)"/>
<ellipse cx="395" cy="330.5" rx="10" ry="14" fill="rgb(195,0,0)" fill-opacity="1" filter="url(#bl3_5)"/>
<ellipse cx="395.5" cy="331.5" rx="5" ry="9.5" fill="rgb(223,0,0)" fill-opacity="1" filter="url(#bl2_5)"/>
<ellipse cx="452.5" cy="324" rx="13" ry="12" fill="rgb(168,0,0)" fill-opacity="1" filter="url(#bl4)"/>
<ellipse cx="452.8" cy="323.5" rx="7" ry="7" fill="rgb(195,0,0)" fill-opacity="1" filter="url(#bl3)"/>
<ellipse cx="453" cy="323" rx="3.5" ry="3.5" fill="rgb(205,0,0)" fill-opacity="1" filter="url(#bl2)"/>
<rect x="94.3" y="246.0" width="2.2" height="175.0" fill="rgb(128,0,0)" fill-opacity=".85"/>
<path d="M73,246.0 L83,246.0 Q79,270 73,293 Z" fill="rgb(26,0,0)"/>
<g style="mix-blend-mode:screen"><rect x="65" y="238.0" width="594.9" height="191.0" fill="url(#nb)" /><path d="M73,246.0 L83,246.0 Q79,270 73,293 Z" fill="#000"/></g>
</g></g>
<g clip-path="url(#cfc)"><g filter="url(#fc)">
<rect x="65" y="469.2" width="594.9" height="190.90000000000003" fill="url(#lc)" />
<polygon points="40.0,437.2 215.0,437.2 300.0,500.0 360.0,520.0 400.0,524.0 460.0,534.0 500.0,545.0 512.0,572.0 500.0,600.0 460.0,609.0 400.0,606.0 340.0,622.0 280.0,692.1 40.0,692.1" fill="rgb(84,0,0)" fill-opacity="0.85" filter="url(#bl8)"/>
<polygon points="40.0,447.2 160.0,477.0 200.0,483.0 270.0,504.0 297.0,514.0 330.0,526.0 360.0,532.0 388.0,536.0 456.0,547.0 486.0,554.0 497.0,571.0 486.0,590.0 456.0,596.0 388.0,590.0 345.0,600.0 330.0,604.0 297.0,612.0 270.0,620.0 210.0,650.0 198.0,662.0 40.0,682.1" fill="rgb(111,0,0)" fill-opacity="1" filter="url(#bl5)"/>
<rect x="65" y="487" width="578.9" height="156" fill="url(#lc2)"/>
<polygon points="110.0,489.0 140.0,490.0 200.0,508.0 270.0,532.0 330.0,547.0 360.0,551.0 440.0,561.0 440.0,584.0 360.0,592.0 330.0,596.0 270.0,606.0 210.0,620.0 130.0,640.0 110.0,642.0" fill="rgb(133,0,0)" fill-opacity="0.9" filter="url(#bl7)"/>
<polygon points="176.0,568.0 182.0,553.0 204.0,539.0 248.0,533.0 300.0,542.0 344.0,548.0 385.0,554.0 412.0,568.0 385.0,584.0 344.0,591.0 300.0,597.0 248.0,604.0 204.0,598.0 182.0,584.0" fill="rgb(154,0,0)" fill-opacity="1" filter="url(#bl5)"/>
<ellipse cx="246" cy="568" rx="49" ry="24" fill="rgb(185,0,0)" fill-opacity="1" filter="url(#bl6)"/>
<ellipse cx="300" cy="569" rx="40" ry="13" fill="rgb(182,0,0)" fill-opacity="1" filter="url(#bl4_5)"/>
<ellipse cx="338" cy="569.5" rx="34" ry="13" fill="rgb(182,0,0)" fill-opacity="1" filter="url(#bl4_5)"/>
<ellipse cx="345" cy="570" rx="21" ry="10" fill="rgb(190,0,0)" fill-opacity="1" filter="url(#bl4)"/>
<ellipse cx="248" cy="568" rx="27" ry="18" fill="rgb(204,0,0)" fill-opacity="1" filter="url(#bl5)"/>
<ellipse cx="247" cy="568" rx="14" ry="10" fill="rgb(215,0,0)" fill-opacity="1" filter="url(#bl4)"/>
<ellipse cx="469.5" cy="570.5" rx="7" ry="12" fill="rgb(138,0,0)" fill-opacity="1" filter="url(#bl4)"/>
<rect x="535.3" y="469.2" width="124.60000000000002" height="190.90000000000003" fill="rgb(52,0,0)"/>
<ellipse cx="547.5" cy="559.5" rx="20" ry="17.5" fill="rgb(66,0,0)" fill-opacity="1" filter="url(#bl3)" transform="rotate(25 547.5 559.5)"/>
<ellipse cx="548" cy="559.5" rx="16.5" ry="14.5" fill="rgb(85,0,0)" fill-opacity="1" filter="url(#bl2)" transform="rotate(25 548 559.5)"/>
<ellipse cx="548" cy="559" rx="13" ry="11" fill="rgb(111,0,0)" fill-opacity="1" filter="url(#bl2)" transform="rotate(25 548 559)"/>
<ellipse cx="547.5" cy="558.5" rx="7" ry="5.5" fill="rgb(146,0,0)" fill-opacity="1" filter="url(#bl2_5)" transform="rotate(25 547.5 558.5)"/>
<g style="mix-blend-mode:screen"><rect x="65" y="469.2" width="594.9" height="190.90000000000003" fill="url(#nc)" /></g>
</g></g>
<g clip-path="url(#cfd)"><g filter="url(#fd)">
<rect x="876" y="1" width="314.70000000000005" height="315.6" fill="rgb(49,0,0)" />
<path d="M859.8,154.0 C859.1,139.3 860.1,123.2 860.9,109.7 C861.8,96.3 860.6,86.0 864.8,73.4 C869.0,60.9 877.6,45.5 885.9,34.2 C894.2,22.9 902.7,14.0 914.5,5.8 C926.3,-2.5 937.7,-9.3 956.7,-15.3 C975.7,-21.3 1006.5,-30.2 1028.2,-30.2 C1049.9,-30.2 1069.7,-21.9 1086.8,-15.2 C1104.0,-8.5 1117.9,-0.1 1131.3,9.8 C1144.7,19.8 1156.7,31.4 1167.1,44.5 C1177.5,57.7 1187.1,74.5 1193.9,88.7 C1200.7,103.0 1205.1,117.0 1207.9,130.1 C1210.7,143.3 1211.0,156.5 1210.5,167.8 C1210.0,179.1 1209.0,184.3 1205.0,198.1 C1201.0,211.9 1195.0,234.7 1186.5,250.6 C1177.9,266.6 1165.6,281.5 1153.7,293.8 C1141.8,306.1 1128.9,316.1 1115.2,324.4 C1101.5,332.6 1085.0,339.0 1071.5,343.3 C1058.0,347.5 1048.0,351.5 1034.0,350.0 C1020.0,348.5 1002.2,340.3 987.6,334.0 C972.9,327.7 959.0,321.1 946.1,312.2 C933.2,303.4 920.7,292.5 910.2,280.9 C899.7,269.3 890.6,256.6 883.1,242.8 C875.7,229.1 869.3,213.2 865.5,198.4 C861.6,183.6 860.6,168.8 859.8,154.0Z" fill="rgb(57,0,0)" filter="url(#bl10)"/>
<path d="M875.8,154.4 C875.0,140.9 875.8,126.3 876.4,114.0 C876.9,101.7 875.5,92.2 879.1,80.6 C882.8,69.0 890.7,54.8 898.2,44.4 C905.8,34.1 913.6,25.9 924.4,18.4 C935.2,10.8 945.8,4.7 963.2,-0.7 C980.6,-6.1 1008.9,-14.3 1028.7,-14.2 C1048.5,-14.0 1066.5,-6.1 1082.2,0.1 C1097.8,6.3 1110.4,14.0 1122.5,23.2 C1134.6,32.3 1145.4,42.9 1154.9,54.9 C1164.3,66.9 1173.0,82.1 1179.2,95.1 C1185.4,108.0 1189.6,120.7 1192.1,132.6 C1194.7,144.6 1195.0,156.6 1194.5,166.9 C1194.1,177.2 1193.1,181.8 1189.4,194.4 C1185.8,207.0 1180.5,227.7 1172.8,242.3 C1165.1,256.8 1153.9,270.5 1143.1,281.7 C1132.3,293.0 1120.7,302.3 1108.2,310.0 C1095.7,317.6 1080.7,323.6 1068.3,327.6 C1056.0,331.6 1046.8,335.5 1034.0,334.0 C1021.2,332.5 1005.0,324.5 991.7,318.5 C978.3,312.6 965.7,306.5 954.0,298.3 C942.3,290.2 931.0,280.2 921.5,269.6 C912.0,259.0 903.8,247.4 897.0,235.0 C890.3,222.5 884.5,208.1 881.0,194.7 C877.5,181.2 876.6,167.8 875.8,154.4Z" fill="rgb(66,0,0)" filter="url(#bl6)"/>
<path d="M886.8,154.6 C886.0,142.1 886.6,128.4 887.0,116.9 C887.3,105.4 885.7,96.4 889.0,85.5 C892.3,74.5 899.6,61.2 906.7,51.5 C913.7,41.7 921.0,34.0 931.2,27.0 C941.4,20.0 951.4,14.4 967.7,9.3 C984.0,4.3 1010.5,-3.4 1029.1,-3.2 C1047.6,-3.0 1064.4,4.7 1078.9,10.6 C1093.5,16.5 1105.2,23.8 1116.5,32.4 C1127.7,40.9 1137.7,50.8 1146.5,62.0 C1155.3,73.2 1163.3,87.3 1169.1,99.4 C1174.9,111.5 1178.8,123.2 1181.2,134.3 C1183.7,145.5 1184.0,156.6 1183.6,166.2 C1183.1,175.8 1182.1,180.1 1178.7,191.8 C1175.4,203.6 1170.6,222.9 1163.4,236.5 C1156.3,250.2 1145.9,262.9 1135.9,273.5 C1125.9,284.1 1115.0,292.9 1103.4,300.1 C1091.8,307.3 1077.7,313.0 1066.2,316.8 C1054.6,320.6 1045.9,324.5 1034.0,323.0 C1022.1,321.5 1006.9,313.6 994.5,307.9 C982.0,302.2 970.3,296.4 959.4,288.8 C948.6,281.1 938.1,271.7 929.3,261.8 C920.5,252.0 912.9,241.2 906.6,229.5 C900.3,217.9 895.0,204.5 891.7,192.1 C888.4,179.6 887.6,167.1 886.8,154.6Z" fill="rgb(81,0,0)" filter="url(#bl4_5)"/>
<path d="M906.8,155.0 C906.0,144.1 906.2,132.3 906.2,122.2 C906.3,112.1 904.3,104.0 906.9,94.4 C909.5,84.7 915.9,72.9 922.0,64.3 C928.1,55.7 934.6,48.8 943.6,42.7 C952.6,36.6 961.5,31.9 975.9,27.6 C990.2,23.3 1013.5,16.4 1029.7,16.8 C1045.9,17.2 1060.5,24.4 1073.1,29.7 C1085.7,35.1 1095.8,41.5 1105.5,49.1 C1115.1,56.6 1123.7,65.2 1131.3,75.0 C1138.8,84.7 1145.7,96.9 1150.7,107.3 C1155.8,117.7 1159.3,127.8 1161.5,137.4 C1163.6,147.1 1164.0,156.8 1163.6,165.1 C1163.2,173.4 1162.1,177.1 1159.3,187.2 C1156.4,197.4 1152.5,214.3 1146.4,226.1 C1140.3,238.0 1131.3,249.1 1122.7,258.5 C1114.0,267.8 1104.7,275.6 1094.6,282.1 C1084.6,288.6 1072.3,293.7 1062.2,297.2 C1052.1,300.7 1044.4,304.4 1034.0,303.0 C1023.6,301.6 1010.3,293.8 999.5,288.6 C988.8,283.3 978.6,278.2 969.3,271.4 C960.0,264.6 951.0,256.3 943.5,247.7 C935.9,239.1 929.4,229.8 924.0,219.7 C918.6,209.6 914.0,198.1 911.1,187.3 C908.3,176.6 907.6,165.8 906.8,155.0Z" fill="rgb(111,0,0)" filter="url(#bl4_5)"/>
<rect x="876" y="1" width="314.70000000000005" height="315.6" fill="url(#rd2)" />
<rect x="1087" y="107" width="1.5" height="93" fill="rgb(156,0,0)" fill-opacity=".8"/>
<g style="mix-blend-mode:screen"><rect x="876" y="1" width="314.70000000000005" height="315.6" fill="rgb(0,153,0)" /><rect x="876" y="1" width="314.70000000000005" height="315.6" fill="url(#nd)" /></g>
</g></g>
<g clip-path="url(#cfe)"><g filter="url(#fe)">
<rect x="876" y="355.7" width="314.70000000000005" height="315.8" fill="rgb(52,0,0)" />
<rect x="876" y="355.7" width="314.70000000000005" height="315.8" fill="url(#re)" />
<rect x="1054.6" y="447" width="2.2" height="12" fill="rgb(46,0,0)" transform="rotate(-14 1055.5 453)"/>
<ellipse cx="915" cy="646" rx="3" ry="5" fill="rgb(42,0,0)" fill-opacity="0.5" filter="url(#bl2)"/>
<g style="mix-blend-mode:screen"><rect x="876" y="355.7" width="314.70000000000005" height="315.8" fill="rgb(0,26,0)" /><rect x="876" y="355.7" width="314.70000000000005" height="315.8" fill="url(#ne)" /></g>
</g></g>
<g>
<rect x="73" y="17.5" width="578.9" height="175.0" fill="none" stroke="#231f20" stroke-width="1.9"/>
<line x1="235.7" y1="17.5" x2="235.7" y2="24.0" stroke="#231f20" stroke-width="1.6"/>
<line x1="235.7" y1="192.5" x2="235.7" y2="186.0" stroke="#231f20" stroke-width="1.6"/>
<text transform="translate(236.0,231.0) scale(0.957,1)" font-size="29.0" text-anchor="middle" fill="#231f20" font-weight="normal" >100</text>
<line x1="371.3" y1="17.5" x2="371.3" y2="24.0" stroke="#231f20" stroke-width="1.6"/>
<line x1="371.3" y1="192.5" x2="371.3" y2="186.0" stroke="#231f20" stroke-width="1.6"/>
<text transform="translate(371.6,231.0) scale(0.957,1)" font-size="29.0" text-anchor="middle" fill="#231f20" font-weight="normal" >300</text>
<line x1="463.3" y1="17.5" x2="463.3" y2="24.0" stroke="#231f20" stroke-width="1.6"/>
<line x1="463.3" y1="192.5" x2="463.3" y2="186.0" stroke="#231f20" stroke-width="1.6"/>
<text transform="translate(463.6,231.0) scale(0.957,1)" font-size="29.0" text-anchor="middle" fill="#231f20" font-weight="normal" >500</text>
<line x1="538" y1="17.5" x2="538" y2="24.0" stroke="#231f20" stroke-width="1.6"/>
<line x1="538" y1="192.5" x2="538" y2="186.0" stroke="#231f20" stroke-width="1.6"/>
<text transform="translate(538.3,231.0) scale(0.957,1)" font-size="29.0" text-anchor="middle" fill="#231f20" font-weight="normal" >700</text>
<line x1="602.8" y1="17.5" x2="602.8" y2="24.0" stroke="#231f20" stroke-width="1.6"/>
<line x1="602.8" y1="192.5" x2="602.8" y2="186.0" stroke="#231f20" stroke-width="1.6"/>
<text transform="translate(603.0999999999999,231.0) scale(0.957,1)" font-size="29.0" text-anchor="middle" fill="#231f20" font-weight="normal" >900</text>
<line x1="73" y1="46.8" x2="79.5" y2="46.8" stroke="#231f20" stroke-width="1.6"/>
<line x1="651.9" y1="46.8" x2="645.4" y2="46.8" stroke="#231f20" stroke-width="1.6"/>
<text transform="translate(60,56.0) scale(0.957,1)" font-size="29.0" text-anchor="end" fill="#231f20" font-weight="normal" >-5</text>
<line x1="73" y1="105.0" x2="79.5" y2="105.0" stroke="#231f20" stroke-width="1.6"/>
<line x1="651.9" y1="105.0" x2="645.4" y2="105.0" stroke="#231f20" stroke-width="1.6"/>
<text transform="translate(60,114.2) scale(0.957,1)" font-size="29.0" text-anchor="end" fill="#231f20" font-weight="normal" >0</text>
<line x1="73" y1="163.2" x2="79.5" y2="163.2" stroke="#231f20" stroke-width="1.6"/>
<line x1="651.9" y1="163.2" x2="645.4" y2="163.2" stroke="#231f20" stroke-width="1.6"/>
<text transform="translate(60,172.39999999999998) scale(0.957,1)" font-size="29.0" text-anchor="end" fill="#231f20" font-weight="normal" >5</text>
<text transform="translate(22.3,106.0) rotate(-90)" font-size="31.2" text-anchor="middle" fill="#231f20">Angle(mrad)</text>
<rect x="73" y="246.0" width="578.9" height="175.0" fill="none" stroke="#231f20" stroke-width="1.9"/>
<line x1="235.7" y1="246.0" x2="235.7" y2="252.5" stroke="#231f20" stroke-width="1.6"/>
<line x1="235.7" y1="421.0" x2="235.7" y2="414.5" stroke="#231f20" stroke-width="1.6"/>
<text transform="translate(236.0,459.5) scale(0.957,1)" font-size="29.0" text-anchor="middle" fill="#231f20" font-weight="normal" >100</text>
<line x1="371.3" y1="246.0" x2="371.3" y2="252.5" stroke="#231f20" stroke-width="1.6"/>
<line x1="371.3" y1="421.0" x2="371.3" y2="414.5" stroke="#231f20" stroke-width="1.6"/>
<text transform="translate(371.6,459.5) scale(0.957,1)" font-size="29.0" text-anchor="middle" fill="#231f20" font-weight="normal" >300</text>
<line x1="463.3" y1="246.0" x2="463.3" y2="252.5" stroke="#231f20" stroke-width="1.6"/>
<line x1="463.3" y1="421.0" x2="463.3" y2="414.5" stroke="#231f20" stroke-width="1.6"/>
<text transform="translate(463.6,459.5) scale(0.957,1)" font-size="29.0" text-anchor="middle" fill="#231f20" font-weight="normal" >500</text>
<line x1="538" y1="246.0" x2="538" y2="252.5" stroke="#231f20" stroke-width="1.6"/>
<line x1="538" y1="421.0" x2="538" y2="414.5" stroke="#231f20" stroke-width="1.6"/>
<text transform="translate(538.3,459.5) scale(0.957,1)" font-size="29.0" text-anchor="middle" fill="#231f20" font-weight="normal" >700</text>
<line x1="602.8" y1="246.0" x2="602.8" y2="252.5" stroke="#231f20" stroke-width="1.6"/>
<line x1="602.8" y1="421.0" x2="602.8" y2="414.5" stroke="#231f20" stroke-width="1.6"/>
<text transform="translate(603.0999999999999,459.5) scale(0.957,1)" font-size="29.0" text-anchor="middle" fill="#231f20" font-weight="normal" >900</text>
<line x1="73" y1="275.7" x2="79.5" y2="275.7" stroke="#231f20" stroke-width="1.6"/>
<line x1="651.9" y1="275.7" x2="645.4" y2="275.7" stroke="#231f20" stroke-width="1.6"/>
<text transform="translate(60,284.9) scale(0.957,1)" font-size="29.0" text-anchor="end" fill="#231f20" font-weight="normal" >-5</text>
<line x1="73" y1="333.9" x2="79.5" y2="333.9" stroke="#231f20" stroke-width="1.6"/>
<line x1="651.9" y1="333.9" x2="645.4" y2="333.9" stroke="#231f20" stroke-width="1.6"/>
<text transform="translate(60,343.09999999999997) scale(0.957,1)" font-size="29.0" text-anchor="end" fill="#231f20" font-weight="normal" >0</text>
<line x1="73" y1="392.09999999999997" x2="79.5" y2="392.09999999999997" stroke="#231f20" stroke-width="1.6"/>
<line x1="651.9" y1="392.09999999999997" x2="645.4" y2="392.09999999999997" stroke="#231f20" stroke-width="1.6"/>
<text transform="translate(60,401.29999999999995) scale(0.957,1)" font-size="29.0" text-anchor="end" fill="#231f20" font-weight="normal" >5</text>
<text transform="translate(22.3,334.9) rotate(-90)" font-size="31.2" text-anchor="middle" fill="#231f20">Angle(mrad)</text>
<rect x="73" y="477.2" width="578.9" height="174.90000000000003" fill="none" stroke="#231f20" stroke-width="1.9"/>
<line x1="235.7" y1="477.2" x2="235.7" y2="483.7" stroke="#231f20" stroke-width="1.6"/>
<line x1="235.7" y1="652.1" x2="235.7" y2="645.6" stroke="#231f20" stroke-width="1.6"/>
<text transform="translate(236.0,690.6) scale(0.957,1)" font-size="29.0" text-anchor="middle" fill="#231f20" font-weight="normal" >100</text>
<line x1="371.3" y1="477.2" x2="371.3" y2="483.7" stroke="#231f20" stroke-width="1.6"/>
<line x1="371.3" y1="652.1" x2="371.3" y2="645.6" stroke="#231f20" stroke-width="1.6"/>
<text transform="translate(371.6,690.6) scale(0.957,1)" font-size="29.0" text-anchor="middle" fill="#231f20" font-weight="normal" >300</text>
<line x1="463.3" y1="477.2" x2="463.3" y2="483.7" stroke="#231f20" stroke-width="1.6"/>
<line x1="463.3" y1="652.1" x2="463.3" y2="645.6" stroke="#231f20" stroke-width="1.6"/>
<text transform="translate(463.6,690.6) scale(0.957,1)" font-size="29.0" text-anchor="middle" fill="#231f20" font-weight="normal" >500</text>
<line x1="538" y1="477.2" x2="538" y2="483.7" stroke="#231f20" stroke-width="1.6"/>
<line x1="538" y1="652.1" x2="538" y2="645.6" stroke="#231f20" stroke-width="1.6"/>
<text transform="translate(538.3,690.6) scale(0.957,1)" font-size="29.0" text-anchor="middle" fill="#231f20" font-weight="normal" >700</text>
<line x1="602.8" y1="477.2" x2="602.8" y2="483.7" stroke="#231f20" stroke-width="1.6"/>
<line x1="602.8" y1="652.1" x2="602.8" y2="645.6" stroke="#231f20" stroke-width="1.6"/>
<text transform="translate(603.0999999999999,690.6) scale(0.957,1)" font-size="29.0" text-anchor="middle" fill="#231f20" font-weight="normal" >900</text>
<line x1="73" y1="506.3" x2="79.5" y2="506.3" stroke="#231f20" stroke-width="1.6"/>
<line x1="651.9" y1="506.3" x2="645.4" y2="506.3" stroke="#231f20" stroke-width="1.6"/>
<text transform="translate(60,515.5) scale(0.957,1)" font-size="29.0" text-anchor="end" fill="#231f20" font-weight="normal" >-5</text>
<line x1="73" y1="564.5" x2="79.5" y2="564.5" stroke="#231f20" stroke-width="1.6"/>
<line x1="651.9" y1="564.5" x2="645.4" y2="564.5" stroke="#231f20" stroke-width="1.6"/>
<text transform="translate(60,573.7) scale(0.957,1)" font-size="29.0" text-anchor="end" fill="#231f20" font-weight="normal" >0</text>
<line x1="73" y1="622.7" x2="79.5" y2="622.7" stroke="#231f20" stroke-width="1.6"/>
<line x1="651.9" y1="622.7" x2="645.4" y2="622.7" stroke="#231f20" stroke-width="1.6"/>
<text transform="translate(60,631.9000000000001) scale(0.957,1)" font-size="29.0" text-anchor="end" fill="#231f20" font-weight="normal" >5</text>
<text transform="translate(22.3,565.5) rotate(-90)" font-size="31.2" text-anchor="middle" fill="#231f20">Angle(mrad)</text>
<text x="361.4" y="727.8" font-size="31" text-anchor="middle" fill="#231f20" font-weight="normal" >Energy(MeV)</text>
<rect x="671.6" y="17.5" width="25.799999999999955" height="175.9" fill="url(#cb17)" stroke="#231f20" stroke-width="1.9"/>
<line x1="694.1999999999999" y1="28.5" x2="697.4" y2="28.5" stroke="#231f20" stroke-width="1.4"/>
<text transform="translate(707.5,37.9) scale(0.957,1)" font-size="29.0" text-anchor="start" fill="#231f20" font-weight="normal" >1.4</text>
<line x1="694.1999999999999" y1="104.8" x2="697.4" y2="104.8" stroke="#231f20" stroke-width="1.4"/>
<text transform="translate(707.5,114.2) scale(0.957,1)" font-size="29.0" text-anchor="start" fill="#231f20" font-weight="normal" >0.8</text>
<line x1="694.1999999999999" y1="181.5" x2="697.4" y2="181.5" stroke="#231f20" stroke-width="1.4"/>
<text transform="translate(707.5,190.9) scale(0.957,1)" font-size="29.0" text-anchor="start" fill="#231f20" font-weight="normal" >0.2</text>
<text transform="translate(778,107.2) rotate(-90)" font-size="27.6" text-anchor="middle" fill="#231f20">pC/mrad/MeV</text>
<rect x="671.6" y="246.0" width="25.799999999999955" height="176.60000000000002" fill="url(#cb246)" stroke="#231f20" stroke-width="1.9"/>
<line x1="694.1999999999999" y1="285.3" x2="697.4" y2="285.3" stroke="#231f20" stroke-width="1.4"/>
<text transform="translate(707.5,294.7) scale(0.957,1)" font-size="29.0" text-anchor="start" fill="#231f20" font-weight="normal" >1.5</text>
<line x1="694.1999999999999" y1="334.4" x2="697.4" y2="334.4" stroke="#231f20" stroke-width="1.4"/>
<text transform="translate(707.5,343.79999999999995) scale(0.957,1)" font-size="29.0" text-anchor="start" fill="#231f20" font-weight="normal" >1</text>
<line x1="694.1999999999999" y1="383.8" x2="697.4" y2="383.8" stroke="#231f20" stroke-width="1.4"/>
<text transform="translate(707.5,393.2) scale(0.957,1)" font-size="29.0" text-anchor="start" fill="#231f20" font-weight="normal" >0.5</text>
<text transform="translate(777,336) rotate(-90)" font-size="27.6" text-anchor="middle" fill="#231f20">pC/mrad/GeV</text>
<rect x="671.6" y="477.2" width="25.799999999999955" height="176.3" fill="url(#cb477)" stroke="#231f20" stroke-width="1.9"/>
<line x1="694.1999999999999" y1="512.7" x2="697.4" y2="512.7" stroke="#231f20" stroke-width="1.4"/>
<text transform="translate(707.5,522.1) scale(0.957,1)" font-size="29.0" text-anchor="start" fill="#231f20" font-weight="normal" >3</text>
<line x1="694.1999999999999" y1="561.1" x2="697.4" y2="561.1" stroke="#231f20" stroke-width="1.4"/>
<text transform="translate(707.5,570.5) scale(0.957,1)" font-size="29.0" text-anchor="start" fill="#231f20" font-weight="normal" >2</text>
<line x1="694.1999999999999" y1="609.8" x2="697.4" y2="609.8" stroke="#231f20" stroke-width="1.4"/>
<text transform="translate(707.5,619.1999999999999) scale(0.957,1)" font-size="29.0" text-anchor="start" fill="#231f20" font-weight="normal" >1</text>
<text transform="translate(759.8,567.5) rotate(-90)" font-size="27.6" text-anchor="middle" fill="#231f20">pC/mrad/GeV</text>
<rect x="884" y="9" width="298.70000000000005" height="299.6" fill="none" stroke="#231f20" stroke-width="1.9"/>
<text transform="translate(871.6,19.2) scale(0.957,1)" font-size="29.0" text-anchor="end" fill="#231f20" font-weight="normal" >-10</text>
<line x1="884" y1="83.9" x2="888.5" y2="83.9" stroke="#231f20" stroke-width="1.6"/>
<line x1="1182.7" y1="83.9" x2="1178.2" y2="83.9" stroke="#231f20" stroke-width="1.6"/>
<text transform="translate(871.6,94.10000000000001) scale(0.957,1)" font-size="29.0" text-anchor="end" fill="#231f20" font-weight="normal" >-5</text>
<line x1="884" y1="158.8" x2="888.5" y2="158.8" stroke="#231f20" stroke-width="1.6"/>
<line x1="1182.7" y1="158.8" x2="1178.2" y2="158.8" stroke="#231f20" stroke-width="1.6"/>
<text transform="translate(871.6,169.0) scale(0.957,1)" font-size="29.0" text-anchor="end" fill="#231f20" font-weight="normal" >0</text>
<line x1="884" y1="233.70000000000002" x2="888.5" y2="233.70000000000002" stroke="#231f20" stroke-width="1.6"/>
<line x1="1182.7" y1="233.70000000000002" x2="1178.2" y2="233.70000000000002" stroke="#231f20" stroke-width="1.6"/>
<text transform="translate(871.6,243.9) scale(0.957,1)" font-size="29.0" text-anchor="end" fill="#231f20" font-weight="normal" >5</text>
<text transform="translate(871.6,318.8) scale(0.957,1)" font-size="29.0" text-anchor="end" fill="#231f20" font-weight="normal" >10</text>
<text transform="translate(883.4,346.8) scale(0.957,1)" font-size="29.0" text-anchor="middle" fill="#231f20" font-weight="normal" >-10</text>
<line x1="1033.35" y1="9" x2="1033.35" y2="13.5" stroke="#231f20" stroke-width="1.6"/>
<line x1="1033.35" y1="308.6" x2="1033.35" y2="304.1" stroke="#231f20" stroke-width="1.6"/>
<text transform="translate(1033.6499999999999,346.8) scale(0.957,1)" font-size="29.0" text-anchor="middle" fill="#231f20" font-weight="normal" >0</text>
<text transform="translate(1183.0,346.8) scale(0.957,1)" font-size="29.0" text-anchor="middle" fill="#231f20" font-weight="normal" >10</text>
<text transform="translate(820,161.8) rotate(-90)" font-size="32.2" text-anchor="middle" fill="#231f20">Vertical angle(mrad)</text>
<rect x="884" y="363.7" width="298.70000000000005" height="299.8" fill="none" stroke="#231f20" stroke-width="1.9"/>
<text transform="translate(871.6,373.9) scale(0.957,1)" font-size="29.0" text-anchor="end" fill="#231f20" font-weight="normal" >-10</text>
<line x1="884" y1="438.65" x2="888.5" y2="438.65" stroke="#231f20" stroke-width="1.6"/>
<line x1="1182.7" y1="438.65" x2="1178.2" y2="438.65" stroke="#231f20" stroke-width="1.6"/>
<text transform="translate(871.6,448.84999999999997) scale(0.957,1)" font-size="29.0" text-anchor="end" fill="#231f20" font-weight="normal" >-5</text>
<line x1="884" y1="513.6" x2="888.5" y2="513.6" stroke="#231f20" stroke-width="1.6"/>
<line x1="1182.7" y1="513.6" x2="1178.2" y2="513.6" stroke="#231f20" stroke-width="1.6"/>
<text transform="translate(871.6,523.8000000000001) scale(0.957,1)" font-size="29.0" text-anchor="end" fill="#231f20" font-weight="normal" >0</text>
<line x1="884" y1="588.55" x2="888.5" y2="588.55" stroke="#231f20" stroke-width="1.6"/>
<line x1="1182.7" y1="588.55" x2="1178.2" y2="588.55" stroke="#231f20" stroke-width="1.6"/>
<text transform="translate(871.6,598.75) scale(0.957,1)" font-size="29.0" text-anchor="end" fill="#231f20" font-weight="normal" >5</text>
<text transform="translate(871.6,673.7) scale(0.957,1)" font-size="29.0" text-anchor="end" fill="#231f20" font-weight="normal" >10</text>
<text transform="translate(883.4,701.7) scale(0.957,1)" font-size="29.0" text-anchor="middle" fill="#231f20" font-weight="normal" >-10</text>
<line x1="1033.35" y1="363.7" x2="1033.35" y2="368.2" stroke="#231f20" stroke-width="1.6"/>
<line x1="1033.35" y1="663.5" x2="1033.35" y2="659.0" stroke="#231f20" stroke-width="1.6"/>
<text transform="translate(1033.6499999999999,701.7) scale(0.957,1)" font-size="29.0" text-anchor="middle" fill="#231f20" font-weight="normal" >0</text>
<text transform="translate(1183.0,701.7) scale(0.957,1)" font-size="29.0" text-anchor="middle" fill="#231f20" font-weight="normal" >10</text>
<text transform="translate(820,514.4) rotate(-90)" font-size="32.2" text-anchor="middle" fill="#231f20">Vertical angle(mrad)</text>
<text x="1031.7" y="740.2" font-size="32" text-anchor="middle" fill="#231f20" font-weight="normal" >Horizontal angle(mrad)</text>
<rect x="1198.8" y="9" width="16.5" height="299.6" fill="url(#cb9)" stroke="#231f20" stroke-width="1.9"/>
<line x1="1212.3" y1="40.6" x2="1215.3" y2="40.6" stroke="#231f20" stroke-width="1.4"/>
<text transform="translate(1225,51.3) scale(0.957,1)" font-size="29.0" text-anchor="start" fill="#231f20" font-weight="normal" >2</text>
<line x1="1212.3" y1="117.6" x2="1215.3" y2="117.6" stroke="#231f20" stroke-width="1.4"/>
<text transform="translate(1225,128.29999999999998) scale(0.957,1)" font-size="29.0" text-anchor="start" fill="#231f20" font-weight="normal" >1.5</text>
<line x1="1212.3" y1="194.6" x2="1215.3" y2="194.6" stroke="#231f20" stroke-width="1.4"/>
<text transform="translate(1225,205.29999999999998) scale(0.957,1)" font-size="29.0" text-anchor="start" fill="#231f20" font-weight="normal" >1</text>
<line x1="1212.3" y1="271.6" x2="1215.3" y2="271.6" stroke="#231f20" stroke-width="1.4"/>
<text transform="translate(1225,282.3) scale(0.957,1)" font-size="29.0" text-anchor="start" fill="#231f20" font-weight="normal" >0.5</text>
<text transform="translate(1297.2,160) rotate(-90)" font-size="29.1" text-anchor="middle" fill="#231f20">PSL/mrad/mrad</text>
<rect x="1198.8" y="363.7" width="16.5" height="300.09999999999997" fill="url(#cb363)" stroke="#231f20" stroke-width="1.9"/>
<line x1="1212.3" y1="383.2" x2="1215.3" y2="383.2" stroke="#231f20" stroke-width="1.4"/>
<text transform="translate(1225.5,394.09999999999997) scale(0.957,1)" font-size="29.0" text-anchor="start" fill="#231f20" font-weight="normal" >20</text>
<line x1="1212.3" y1="458" x2="1215.3" y2="458" stroke="#231f20" stroke-width="1.4"/>
<text transform="translate(1225.5,468.9) scale(0.957,1)" font-size="29.0" text-anchor="start" fill="#231f20" font-weight="normal" >15</text>
<line x1="1212.3" y1="532.8" x2="1215.3" y2="532.8" stroke="#231f20" stroke-width="1.4"/>
<text transform="translate(1225.5,543.6999999999999) scale(0.957,1)" font-size="29.0" text-anchor="start" fill="#231f20" font-weight="normal" >10</text>
<line x1="1212.3" y1="607.6" x2="1215.3" y2="607.6" stroke="#231f20" stroke-width="1.4"/>
<text transform="translate(1225.5,618.5) scale(0.957,1)" font-size="29.0" text-anchor="start" fill="#231f20" font-weight="normal" >5</text>
<text transform="translate(1290.4,515.4) rotate(-90)" font-size="29.1" text-anchor="middle" fill="#231f20">PSL/mrad/mrad</text>
<text font-size="38" font-weight="bold" fill="#fff" stroke="#fff" stroke-width=".5" xml:space="preserve"><tspan x="421.5" y="65.5">(a) z</tspan><tspan x="492" dy="8.2" font-size="25.1">f</tspan><tspan x="505.5" y="65.5">= -5 mm</tspan></text>
<text font-size="38" font-weight="bold" fill="#fff" stroke="#fff" stroke-width=".5" xml:space="preserve"><tspan x="421.5" y="295.0">(b) z</tspan><tspan x="492" dy="8.2" font-size="25.1">f</tspan><tspan x="505.5" y="295.0">= -2 mm</tspan></text>
<text font-size="38" font-weight="bold" fill="#fff" stroke="#fff" stroke-width=".5" xml:space="preserve"><tspan x="420.5" y="525.5">(c) z</tspan><tspan x="489" dy="8.2" font-size="25.1">f</tspan><tspan x="510" y="525.5">= 0 mm</tspan></text>
<text x="1140.8" y="54.5" font-size="36.5" text-anchor="middle" fill="#fff" font-weight="bold" stroke="#fff" stroke-width=".5">(d)</text>
<text x="1141" y="411" font-size="36" text-anchor="middle" fill="#fff" font-weight="bold" stroke="#fff" stroke-width=".5">(e)</text>
</g>
</svg>
</body></html>
